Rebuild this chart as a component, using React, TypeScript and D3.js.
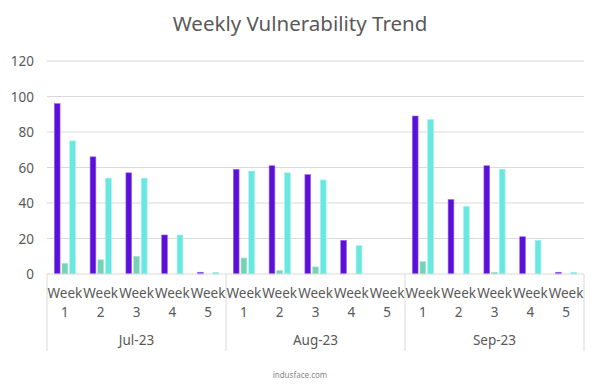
import React from 'react';
import * as d3 from 'd3';

const months = ['Jul-23', 'Aug-23', 'Sep-23'];
const weeks = ['1', '2', '3', '4', '5'];
const seriesKeys = ['purple', 'green', 'cyan'];

// values per week, Jul -> Sep
const purpleValues = [96, 66, 57, 22, 1, 59, 61, 56, 19, 0, 89, 42, 61, 21, 1];
const greenValues = [6, 8, 10, 0, 0, 9, 2, 4, 0, 0, 7, 0, 1, 0, 0];
const cyanValues = [75, 54, 54, 22, 1, 58, 57, 53, 16, 0, 87, 38, 59, 19, 1];

const yTicks = [0, 20, 40, 60, 80, 100, 120];

const colors: Record<string, string> = { purple: '#5b0fd8', green: '#74d3b5', cyan: '#68e8e1' };
const strokes: Record<string, string> = { purple: '#9a6ff0', green: '#a6e6d2', cyan: '#a2f2ee' };

const App: React.FC = () => {
  const width = 600;
  const height = 390;
  const left = 47;
  const right = 584;
  const top = 61;
  const bottom = 274;
  const font = '"Noto Sans", sans-serif';
  const textColor = '#595959';

  const cats = d3.range(months.length * weeks.length);
  const x = d3.scaleBand<number>().domain(cats).range([left, right]).padding(0);
  const inner = d3.scaleBand<string>().domain(seriesKeys).range([-10.6, 10.6]).paddingInner(0.25);
  const y = d3.scaleLinear().domain([0, 120]).range([bottom, top]);

  const seriesData: Record<string, number[]> = { purple: purpleValues, green: greenValues, cyan: cyanValues };
  const monthWidth = (right - left) / months.length;

  return (
    <svg width={width} height={height} style={{ position: 'absolute', left: 0, top: 0, background: '#fff' }}>
      <text x={300} y={31} textAnchor="middle" fontFamily={font} fontSize={20.5} fill={textColor}>
        Weekly Vulnerability Trend
      </text>

      {/* gridlines */}
      {yTicks.map(t => (
        <g key={t}>
          {t > 0 && <line x1={left} x2={right} y1={y(t)} y2={y(t)} stroke="#d9d9d9" strokeWidth={1} />}
          <text x={34} y={y(t) + 5} textAnchor="end" fontFamily={font} fontSize={13.5} fill={textColor}>{t}</text>
        </g>
      ))}

      {/* bars */}
      {seriesKeys.map(k => (
        <g key={k}>
          {seriesData[k].map((v, i) => v > 0 && (
            <rect
              key={i}
              x={x(i)! + x.bandwidth() / 2 + inner(k)!}
              y={y(v)}
              width={inner.bandwidth()}
              height={bottom - y(v)}
              fill={colors[k]}
              stroke={strokes[k]}
              strokeWidth={0.6}
            />
          ))}
        </g>
      ))}

      {/* category axis */}
      <line x1={left} x2={right} y1={bottom} y2={bottom} stroke="#d9d9d9" strokeWidth={1} />
      {d3.range(months.length + 1).map(m => (
        <line key={m} x1={left + m * monthWidth} x2={left + m * monthWidth} y1={bottom} y2={351} stroke="#d9d9d9" strokeWidth={1} />
      ))}
      {cats.map(i => (
        <g key={i} fontFamily={font} fontSize={13.5} fill={textColor} textAnchor="middle">
          <text x={x(i)! + x.bandwidth() / 2} y={298}>Week</text>
          <text x={x(i)! + x.bandwidth() / 2} y={317}>{weeks[i % weeks.length]}</text>
        </g>
      ))}
      {months.map((m, j) => (
        <text key={m} x={left + (j + 0.5) * monthWidth} y={345} textAnchor="middle" fontFamily={font} fontSize={13.5} fill={textColor}>
          {m}
        </text>
      ))}

      <text x={300} y={378} textAnchor="middle" fontFamily={font} fontSize={8} fill="#888">indusface.com</text>
    </svg>
  );
};

export default App;
